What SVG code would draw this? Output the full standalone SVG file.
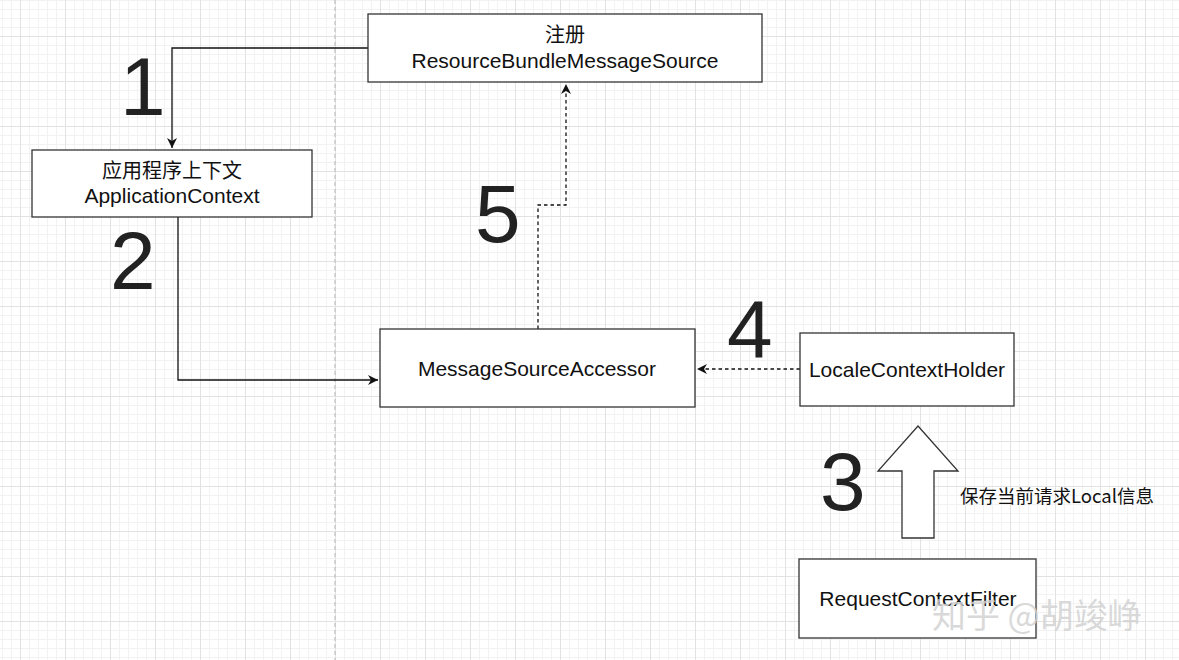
<svg xmlns="http://www.w3.org/2000/svg" width="1179" height="660" viewBox="0 0 1179 660">
<defs>
<pattern id="minor" patternUnits="userSpaceOnUse" x="2" y="0" width="9" height="9">
<path d="M0 0.5H9M0.5 0V9" stroke="#f2f2f2" stroke-width="1" fill="none"/>
</pattern>
<pattern id="major" patternUnits="userSpaceOnUse" x="20" y="36" width="45" height="45">
<path d="M0 0.5H45M0.5 0V45" stroke="#e2e2e2" stroke-width="1" fill="none"/>
</pattern>
<marker id="arr" markerWidth="12" markerHeight="10" refX="10" refY="5" orient="auto" markerUnits="userSpaceOnUse">
<path d="M0 0L10 5L0 10L3 5Z" fill="#111"/>
</marker>
</defs>
<style>
.box{fill:#fff;stroke:#333;stroke-width:1.3}
.t{font-family:"Liberation Sans","Noto Sans CJK SC",sans-serif;font-size:21px;fill:#111;text-anchor:middle}
.c{font-family:"Noto Sans CJK SC","Liberation Sans",sans-serif;font-size:20px;fill:#111;text-anchor:middle}
.num{font-family:"Liberation Sans",sans-serif;font-size:82px;fill:#222}
.ln{fill:none;stroke:#111;stroke-width:1.3}
.dash{stroke-dasharray:3.5 3}
</style>
<rect width="1179" height="660" fill="#fff"/>
<rect width="1179" height="660" fill="url(#minor)"/>
<rect width="1179" height="660" fill="url(#major)"/>
<line x1="335" y1="0" x2="335" y2="660" stroke="#c4c4c4" stroke-width="1.3" stroke-dasharray="4 3"/>
<g id="connectors">
<path class="ln" d="M368 48H172V148" marker-end="url(#arr)"/>
<path class="ln" d="M178 217V380H378" marker-end="url(#arr)"/>
<path class="ln dash" d="M538 329V205H566V84" marker-end="url(#arr)"/>
<path class="ln dash" d="M800 369H697" marker-end="url(#arr)"/>
</g>
<g id="resource">
<rect class="box" x="368" y="14" width="394" height="68"/>
<text class="c" x="565" y="42">注册</text>
<text class="t" x="565" y="68">ResourceBundleMessageSource</text>
</g>
<g id="appctx">
<rect class="box" x="32" y="150" width="280" height="67"/>
<text class="c" x="172" y="178">应用程序上下文</text>
<text class="t" x="172" y="203">ApplicationContext</text>
</g>
<g id="accessor">
<rect class="box" x="380" y="329" width="315" height="78"/>
<text class="t" x="537" y="376">MessageSourceAccessor</text>
</g>
<g id="locale">
<rect class="box" x="800" y="333" width="214" height="73"/>
<text class="t" x="907" y="377">LocaleContextHolder</text>
</g>
<g id="bigarrow">
<polygon points="918,426 958,471 934,471 934,538 902,538 902,471 878,471" fill="#fff" stroke="#333" stroke-width="1.3"/>
</g>
<g id="filter">
<rect class="box" x="799" y="559" width="237" height="79"/>
<text class="t" x="918" y="606">RequestContextFilter</text>
</g>
<g id="labels">
<text class="num" x="120" y="115">1</text>
<text class="num" x="110" y="289">2</text>
<text class="num" x="820" y="510">3</text>
<text class="num" x="727" y="358">4</text>
<text class="num" x="475" y="242">5</text>
<text x="960" y="503" style="font-family:'Noto Sans CJK SC','Liberation Sans',sans-serif;font-size:18.5px;fill:#111">保存当前请求Local信息</text>
<text x="932" y="628" style="font-family:'Noto Sans CJK SC',sans-serif;font-size:34px;fill:#d2d2d2;fill-opacity:0.85">知乎 @胡竣峥</text>
</g>
</svg>
